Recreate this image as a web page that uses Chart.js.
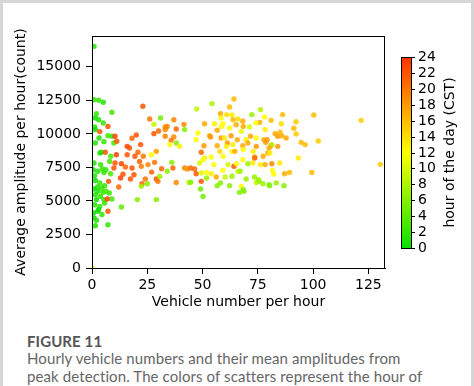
<!DOCTYPE html>
<html>
<head>
<meta charset="utf-8">
<script src="https://cdn.jsdelivr.net/npm/chart.js@4.4.0/dist/chart.umd.min.js"></script>
<style>
html,body{margin:0;padding:0;background:#fff;}
#page{position:relative;width:474px;height:386px;overflow:hidden;background:#fff;}
#frame{position:absolute;left:0;top:0;width:468px;height:390px;border:3px solid #d6d6d6;}
#chartBox{position:absolute;left:0;top:0;width:474px;height:320px;}
.cap{position:absolute;left:27px;font-family:Lato,"Open Sans",sans-serif;font-size:15px;line-height:18px;white-space:nowrap;letter-spacing:0.1px;}
#figNo{top:332px;font-weight:bold;color:#555;}
#line1{top:349px;color:#666;}
#line2{top:367px;color:#666;}
</style>
</head>
<body>
<div id="page">
  <div id="frame"></div>
  <div id="chartBox"><canvas id="c" width="474" height="320"></canvas></div>
  <div class="cap" id="figNo">FIGURE 11</div>
  <div class="cap" id="line1">Hourly vehicle numbers and their mean amplitudes from</div>
  <div class="cap" id="line2">peak detection. The colors of scatters represent the hour of</div>
</div>
<script>
// 数据：每小时车辆数 / 平均幅值 / 时刻（小时）
var vehicles = [
  // 左侧绿色簇
  0.9,0.9,3.0,5.1,9.0,2.0,1.5,3.0,5.1,1.2,1.5,7.2,9.0,3.2,1.5,5.4,9.9,4.2,3.6,0.9,
  3.9,8.0,8.5,0.5,2.6,4.7,6.3,1.2,5.4,8.4,1.5,3.5,2.5,4.5,0.9,5.7,2.7,5.0,1.5,3.9,
  6.3,7.8,2.0,5.4,9.0,1.2,3.5,5.7,2.5,4.5,0.9,2.0,7.2,1.5,3.0,0.6,13.3,0.0,
  // 红橙簇 (夜间)
  7.2,3.5,6.0,11.0,15.9,20.8,26.8,29.1,9.9,13.3,15.1,18.1,21.5,22.3,25.3,28.3,36.1,34.0,36.6,41.9,
  43.1,7.5,12.9,17.4,22.6,24.1,25.0,22.3,29.1,29.8,30.6,38.1,43.8,12.1,20.5,29.1,6.9,7.2,23.0,26.1,
  31.0,28.0,37.0,33.1,33.1,30.1,28.0,38.1,41.6,41.9,20.0,18.1,33.1,37.0,35.8,15.9,22.0,38.1,35.2,39.6,
  10.4,11.2,17.0,34.0,10.4,19.4,23.2,14.0,31.5,27.0,19.0,
  // 黄橙簇 上半部分
  64.2,54.2,47.3,62.2,72.3,76.2,58.1,58.4,63.3,66.0,68.2,78.0,81.0,85.6,50.9,55.4,59.2,65.2,71.2,75.8,
  78.3,47.9,53.2,56.6,62.2,67.5,53.6,58.4,62.9,65.7,69.7,74.3,77.7,79.2,82.8,84.0,85.8,87.8,47.1,50.6,
  56.6,59.9,61.2,63.7,68.2,70.5,74.3,81.0,84.0,81.3,
  // 黄绿簇 下半部分
  49.4,53.9,50.9,63.3,48.7,50.2,55.1,44.6,46.4,47.1,49.4,51.7,53.9,56.2,59.2,61.5,64.2,66.0,68.2,70.5,
  72.7,76.2,78.3,81.3,44.6,49.4,49.1,50.2,56.6,58.1,60.2,62.2,63.3,66.7,67.5,68.7,69.7,73.5,74.3,75.3,
  77.3,80.3,83.3,86.8,82.2,87.1,73.5,79.5,
  // 补充点
  86.2,68.4,74.1,85.0,71.7,78.6,80.1,80.4,68.4,72.9,73.6,77.4,84.9,65.4,67.0,75.6,80.1,68.4,81.6,
  60.9,63.8,58.6,60.8,57.8,64.6,59.3,51.8,
  // 右侧离群点
  100.3,121.7,92.3,91.3,92.3,94.6,96.4,102.3,93.3,89.3,99.4,130.4
];
var amplitudes = [
  16530,12550,12510,12360,11610,11510,11190,11060,10810,10510,10320,9870,9820,9690,9320,9420,9320,8630,8580,7830,
  7710,7950,8330,7330,7210,7380,7330,6890,7130,7030,6530,6340,6040,5960,5890,6140,5720,5640,5470,5340,
  5720,5590,5100,5100,5150,4720,4590,4840,4230,3990,3740,3560,3230,3150,4340,4100,4550,0,
  10560,10170,8630,8450,8450,8630,8450,8700,7460,7780,7530,7460,7950,7580,7710,7880,7880,7210,7460,7460,
  7380,6460,6710,6640,6280,6640,6280,6090,6640,6460,6830,6380,6380,6040,5100,5100,5150,4230,12060,11110,
  11190,10710,11060,10520,10320,10220,10020,10370,10710,10320,9920,9670,9820,9770,9520,9070,9200,9320,9200,9070,
  9820,9450,8950,10560,7830,8330,8330,7000,7400,7150,6950,
  12600,12260,11860,12010,11440,11810,11510,11190,11410,11110,10940,11260,11010,10760,10760,10760,10760,10680,10520,10860,
  10320,10070,9870,10270,10440,10190,9770,9700,9870,9570,9570,9700,9570,9570,10020,9820,9870,9700,9570,9120,
  9120,9700,9320,9200,9120,9320,9070,9120,9070,9200,
  8630,8280,8200,8700,7830,8080,7710,7460,7380,7030,7080,7130,7030,6790,7290,7710,7580,7210,8080,7780,
  7830,7710,7710,7780,6390,6460,5890,5340,6140,6340,6790,6140,6840,5640,6090,5720,6640,6790,6380,6590,
  6280,6140,6340,6140,7010,7030,8280,8580,
  11440,10560,10820,10120,9820,9370,8950,8580,8830,8700,8200,8330,7830,7780,7210,6460,6210,5840,7280,
  11440,11060,10560,9070,8700,8700,8330,6710,
  11410,11010,10910,10420,10000,9370,9200,9470,8200,7130,7130,7730
];
var hours = [
  1,2,2,1,3,2,0,1,2,1,0,3,2,1,1,2,3,2,1,1,
  2,3,3,0,1,2,2,1,2,3,0,2,1,2,0,2,1,2,1,2,
  3,2,0,2,3,1,2,2,1,2,0,1,2,1,0,0,4,13,
  22,22,22,23,22,21,12,18,22,23,21,22,21,20,19,20,6,6,21,19,
  18,22,23,22,21,20,6,7,22,20,7,19,9,21,6,6,23,22,22,20,
  5,9,19,19,19,21,22,21,19,6,22,21,19,19,20,23,22,6,12,13,
  23,22,22,19,22,22,20,22,21,21,22,
  16,8,9,16,7,8,17,12,13,14,17,12,16,14,17,13,12,17,10,17,
  13,12,17,17,12,11,18,18,18,17,13,12,17,18,17,18,17,17,12,18,
  17,13,18,13,17,17,18,17,18,8,
  21,12,13,12,10,12,12,21,21,22,10,12,13,17,12,10,22,10,12,7,
  13,13,17,19,6,22,5,5,6,6,9,6,7,6,12,6,7,7,9,7,
  7,6,7,6,12,17,17,17,
  16,17,12,16,17,18,17,13,12,13,21,17,13,12,7,7,6,6,12,
  14,16,12,13,14,17,12,7,
  16,15,15,16,15,16,16,15,13,16,16,15
];
var xTicks = [0, 25, 50, 75, 100, 125];
var yTicks = [0, 2500, 5000, 7500, 10000, 12500, 15000];
var cbTicks = [0, 2, 4, 6, 8, 10, 12, 14, 16, 18, 20, 22, 24];

// 颜色映射：0点绿色 -> 12点黄色 -> 24点红橙色
function hourColor(h, a) {
  var r, g;
  if (h <= 12) {
    r = Math.round(10 + 245 * h / 12);
    g = Math.round(225 + 30 * h / 12);
  } else {
    r = 255;
    g = Math.round(255 - 205 * (h - 12) / 12);
  }
  return "rgba(" + r + "," + g + ",0," + a + ")";
}

var points = vehicles.map(function(v, i){ return {x: v, y: amplitudes[i]}; });
var colors = hours.map(function(h){ return hourColor(h, 0.85); });

var FONT = "'DejaVu Sans', sans-serif";

// 外框（上、右边框）
var framePlugin = {
  id: "frame",
  afterDraw: function(chart) {
    var a = chart.chartArea, ctx = chart.ctx;
    ctx.save();
    ctx.strokeStyle = "#000";
    ctx.lineWidth = 1;
    ctx.strokeRect(a.left + 0.5, a.top + 0.5, a.right - a.left - 1, a.bottom - a.top);
    ctx.restore();
  }
};

// 色条
var colorbarPlugin = {
  id: "colorbar",
  afterDraw: function(chart) {
    var ctx = chart.ctx;
    var left = 401, width = 10, top = 57, bottom = 248;
    var grad = ctx.createLinearGradient(0, bottom, 0, top);
    for (var h = 0; h <= 24; h++) grad.addColorStop(h / 24, hourColor(h, 1));
    ctx.save();
    ctx.fillStyle = grad;
    ctx.fillRect(left, top, width, bottom - top);
    ctx.strokeStyle = "#000";
    ctx.lineWidth = 1;
    ctx.strokeRect(left + 0.5, top + 0.5, width, bottom - top);
    ctx.fillStyle = "#000";
    ctx.font = "14px " + FONT;
    ctx.textAlign = "left";
    ctx.textBaseline = "middle";
    cbTicks.forEach(function(t){
      var y = Math.round(bottom - t / 24 * (bottom - top)) + 0.5;
      ctx.beginPath();
      ctx.moveTo(left + width, y);
      ctx.lineTo(left + width + 4, y);
      ctx.stroke();
      ctx.fillText(String(t), left + width + 7, y);
    });
    ctx.translate(450, (top + bottom) / 2);
    ctx.rotate(-Math.PI / 2);
    ctx.textAlign = "center";
    ctx.fillText("hour of the day (CST)", 0, 0);
    ctx.restore();
  }
};

new Chart(document.getElementById("c"), {
  type: "scatter",
  data: {
    datasets: [{
      data: points,
      backgroundColor: colors,
      borderWidth: 0,
      pointRadius: 2.7,
      pointHoverRadius: 2.7
    }]
  },
  options: {
    responsive: false,
    animation: false,
    devicePixelRatio: 1,
    layout: { padding: { left: 0, top: 36, right: 89, bottom: 0 } },
    plugins: { legend: { display: false }, tooltip: { enabled: false } },
    scales: {
      x: {
        type: "linear",
        min: 0,
        max: 132.5,
        afterBuildTicks: function(s){ s.ticks = xTicks.map(function(v){ return {value: v}; }); },
        afterFit: function(s){ s.height = 52; },
        grid: { display: true, drawOnChartArea: false, drawTicks: true, tickLength: 6, tickColor: "#000" },
        border: { display: true, color: "#000", width: 1 },
        ticks: { color: "#000", padding: 3, maxRotation: 0, font: { family: FONT, size: 14 } },
        title: { display: true, text: "Vehicle number per hour", color: "#000", padding: { top: 0, bottom: 9 }, font: { family: FONT, size: 14 } }
      },
      y: {
        type: "linear",
        min: 0,
        max: 17300,
        afterBuildTicks: function(s){ s.ticks = yTicks.map(function(v){ return {value: v}; }); },
        afterFit: function(s){ s.width = 92; },
        grid: { display: true, drawOnChartArea: false, drawTicks: true, tickLength: 6, tickColor: "#000" },
        border: { display: true, color: "#000", width: 1 },
        ticks: { color: "#000", padding: 5, font: { family: FONT, size: 14 }, callback: function(v){ return String(v); } },
        title: { display: true, text: "Average amplitude per hour(count)", color: "#000", padding: { top: 13, bottom: 0 }, font: { family: FONT, size: 14 } }
      }
    }
  },
  plugins: [framePlugin, colorbarPlugin]
});
</script>
</body>
</html>
